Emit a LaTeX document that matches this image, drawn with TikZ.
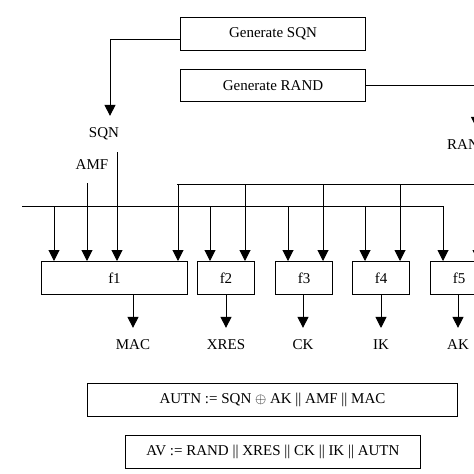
\documentclass[tikz,border=0pt]{standalone}
\usepackage{fontspec}
\setmainfont{Liberation Serif}
\usetikzlibrary{arrows.meta,positioning}

\begin{document}
\begin{tikzpicture}[
  x=1pt, y=-1pt,
  font=\fontsize{15}{18}\selectfont,
  box/.style={
    draw,
    line width=1pt,
    anchor=north west,
    inner sep=0pt,
    minimum height=33pt
  },
  fbox/.style={box, minimum width=57pt},
  lbl/.style={anchor=base, inner xsep=0pt, inner ysep=11pt},
  wire/.style={line width=1pt, line cap=rect},
  arrow/.style={-{Triangle[length=11pt,width=11pt]}, line width=1pt}
]
\useasboundingbox (0,0) rectangle (474,474);

% generators
\node[box, minimum width=185pt] (gensqn) at (180,17) {Generate SQN};
\node[box, minimum width=185pt, minimum height=32pt] (genrand) at (180,69) {Generate RAND};

% inputs
\node[lbl] (sqn) at (104,137) {SQN};
\node[lbl] (amf) at (92,169) {AMF};
\node[lbl, anchor=base west] (rand) at (447,149) {RAND};
\coordinate (sqnin) at (117,152);
\coordinate (amfin) at (87,183);
\coordinate (kbus) at (22,206);
\coordinate (rbus) at (177,184);
\coordinate (redge) at (520,184);

% functions
\node[fbox, minimum width=146pt] (f1) at (41,261) {f1};
\foreach \n/\x in {2/197,3/275,4/352,5/430}
  \node[fbox] (f\n) at (\x,261) {f\n};

% outputs
\node[lbl] (mac) at (133,349) {MAC};
\node[lbl] (xres) at (226,349) {XRES};
\node[lbl] (ck) at (303,349) {CK};
\node[lbl] (ik) at (381,349) {IK};
\node[lbl] (ak) at (458,349) {AK};

\node[box, minimum width=370pt] (autn) at (87,383) {AUTN := SQN $\oplus$ AK || AMF || MAC};
\node[box, minimum width=295pt] (av) at (125,435) {AV := RAND || XRES || CK || IK || AUTN};

\draw[arrow] ([yshift=-5.5pt]gensqn.west) -| ([xshift=6pt]sqn.north);
\draw[arrow] (genrand.east) -| ([xshift=8pt]rand.north);
\draw[arrow] (sqnin) -- (sqnin |- f1.north);
\draw[arrow] (amfin) -- (amfin |- f1.north);

\draw[wire] (kbus) -- ([xshift=13pt]f5.north west |- kbus);
\draw[wire] (rbus) -- (redge);
\foreach \f in {f1,f2,f3,f4,f5} {
  \draw[arrow] ([xshift=13pt]\f.north west |- kbus) -- ([xshift=13pt]\f.north west);
  \draw[arrow] ([xshift=-10pt]\f.north east |- rbus) -- ([xshift=-10pt]\f.north east);
}

\draw[arrow] (mac.north |- f1.south) -- (mac.north);
\draw[arrow] (xres.north |- f2.south) -- (xres.north);
\draw[arrow] (ck.north |- f3.south) -- (ck.north);
\draw[arrow] (ik.north |- f4.south) -- (ik.north);
\draw[arrow] (ak.north |- f5.south) -- (ak.north);

\end{tikzpicture}
\end{document}
